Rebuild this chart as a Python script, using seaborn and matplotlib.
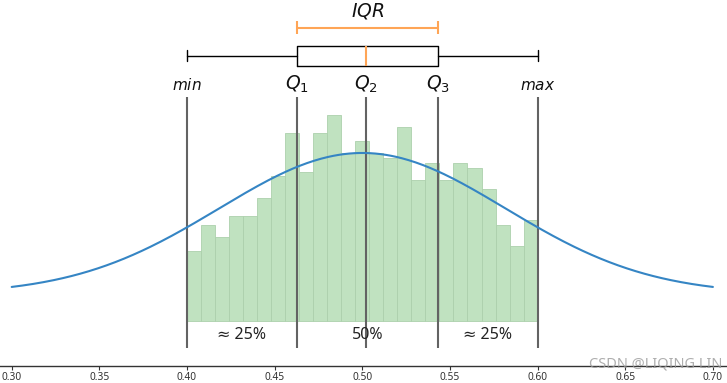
import numpy as np
import pandas as pd
import matplotlib
matplotlib.use("Agg")
import matplotlib.pyplot as plt
import seaborn as sns

# ---------------- data ----------------
bin_range = (0.40, 0.60)
bin_count = 25
bin_heights = [2.51, 3.45, 2.99, 3.77, 3.77, 4.41, 5.21, 6.74, 5.33, 6.74,
               7.39, 6.03, 6.46, 6.03, 5.84, 6.94, 5.05, 5.65, 5.05, 5.65,
               5.50, 4.73, 3.45, 2.67, 3.63]
box_min, box_q1, box_q2, box_q3, box_max = 0.400, 0.4626, 0.5019, 0.5434, 0.600
fit_mu, fit_sigma = 0.50, 0.0817
quantile_labels = [r"$min$", r"$Q_1$", r"$Q_2$", r"$Q_3$", r"$max$"]
share_labels = ["\u2248 25%", "50%", "\u2248 25%"]
xtick_values = [0.30, 0.35, 0.40, 0.45, 0.50, 0.55, 0.60, 0.65, 0.70]
xtick_labels = ["0.30", "0.35", "0.40", "0.45", "0.50", "0.55", "0.60", "0.65", "0.70"]

# ---------------- style ----------------
sns.set_style("white")
plt.rcParams["font.family"] = ["Noto Sans", "DejaVu Sans"]
plt.rcParams["mathtext.fontset"] = "dejavusans"

fig = plt.figure(figsize=(7.27, 3.83), dpi=100)
ax = fig.add_axes([0.0, 0.0452, 1.0, 0.9548])

bw = (bin_range[1] - bin_range[0]) / bin_count
centers = [bin_range[0] + bw * (i + 0.5) for i in range(bin_count)]
hist_df = pd.DataFrame({"x": centers, "w": bin_heights})
sns.histplot(data=hist_df, x="x", weights="w", bins=bin_count, binrange=bin_range,
             stat="count", color="#c0e2c0", edgecolor="#acd0ac", linewidth=0.6,
             alpha=1.0, ax=ax, zorder=1)

quantiles = [box_min, box_q1, box_q2, box_q3, box_max]
ax.vlines(quantiles, -0.99, 8.03, color="#636363", lw=1.5, zorder=3)

for q, lab in zip(quantiles, quantile_labels):
    fs = 11 if "m" in lab else 13.5
    ax.text(q, 8.30, lab, ha="center", va="baseline", fontsize=fs, color="#111111")

# percent labels
mids = [(box_min + box_q1) / 2, (box_q1 + box_q3) / 2, (box_q3 + box_max) / 2]
for m, lab in zip(mids, share_labels):
    ax.text(m, -0.51, lab, ha="center", va="center", fontsize=11.5, color="#222222")

# box plot on top
stats = [dict(med=box_q2, q1=box_q1, q3=box_q3, whislo=box_min, whishi=box_max, fliers=[])]
ax.bxp(stats, positions=[9.505], widths=0.693, orientation="horizontal",
       showfliers=False, manage_ticks=False, capwidths=0.395,
       boxprops=dict(color="black", lw=1.0),
       whiskerprops=dict(color="black", lw=1.0),
       capprops=dict(color="black", lw=1.0),
       medianprops=dict(color="#ffa556", lw=1.5))

# IQR bracket
orange = "#ffa556"
ax.hlines(10.52, box_q1, box_q3, color=orange, lw=1.5)
ax.vlines([box_q1, box_q3], 10.52 - 0.24, 10.52 + 0.24, color=orange, lw=1.5)
ax.text((box_q1 + box_q3) / 2, 10.94, r"$IQR$", ha="center", va="baseline",
        fontsize=13.5, color="#111111")

ax.set_xlim(0.29333, 0.70804)
ax.set_ylim(-1.616, 11.515)
ax.set_xticks(xtick_values)
ax.set_xticklabels(xtick_labels)
ax.set_yticks([])
ax.set_xlabel("")
ax.set_ylabel("")
for s in ["left", "right", "top"]:
    ax.spines[s].set_visible(False)
ax.spines["bottom"].set_color("#333333")
ax.spines["bottom"].set_linewidth(1.0)
ax.tick_params(axis="x", direction="out", length=3.1, width=0.8,
               labelsize=7.3, pad=1.5, colors="#333333", bottom=True)

# normal fit curve on twin axis
ax2 = ax.twinx()
xs = np.linspace(0.30, 0.70, 400)
pdf = np.exp(-0.5 * ((xs - fit_mu) / fit_sigma) ** 2) / (fit_sigma * np.sqrt(2 * np.pi))
sns.lineplot(x=xs, y=pdf, ax=ax2, color="#3585c4", lw=1.5)
ax2.set_ylim(-2.483, 10.18)
ax2.set_yticks([])
ax2.set_ylabel("")
for s in ["left", "right", "top", "bottom"]:
    ax2.spines[s].set_visible(False)

fig.text(0.993, 0.0488, "CSDN @LIQING LIN", ha="right", va="center",
         fontsize=10.5, color="#9a9a9a", alpha=0.8)

fig.savefig("out.png", dpi=100)
